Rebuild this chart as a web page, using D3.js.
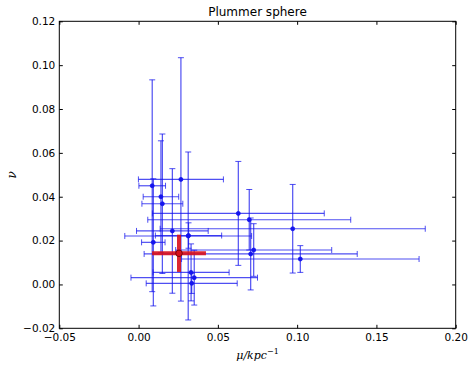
<!DOCTYPE html>
<html><head><meta charset="utf-8">
<script src="https://cdn.jsdelivr.net/npm/d3@7"></script>
<style>html,body{margin:0;padding:0;background:#fff;}svg{display:block;}</style>
</head><body>
<svg id="chart" width="474" height="367"></svg>
<script>
// ---- data ----
const muValues    = [0.0086, 0.0267, 0.0141, 0.0150, 0.0629, 0.0698, 0.0213, 0.0313, 0.0315, 0.0093, 0.0331, 0.0351, 0.0335, 0.0972, 0.1020, 0.0726, 0.0707];
const nuValues    = [0.0450, 0.0479, 0.0400, 0.0368, 0.0324, 0.0295, 0.0244, 0.0221, 0.0223, 0.0192, 0.0055, 0.0031, 0.0005, 0.0254, 0.0116, 0.0157, 0.0139];
const muErrors    = [0.0084, 0.0268, 0.0112, 0.0129, 0.0542, 0.0640, 0.0226, 0.0400, 0.0209, 0.0074, 0.0240, 0.0399, 0.0287, 0.0836, 0.0749, 0.0492, 0.0672];
const nuErrors    = [0.0483, 0.0555, 0.0255, 0.0318, 0.0237, 0.0138, 0.0284, 0.0383, 0.0058, 0.0290, 0.0130, 0.0125, 0.0046, 0.0202, 0.0061, 0.0120, 0.0164];
const meanMu      = [0.0255];
const meanNu      = [0.0142];
const meanMuError = [0.0170];
const meanNuError = [0.0085];
const xTicks = [-0.05, 0.00, 0.05, 0.10, 0.15, 0.20];
const yTicks = [-0.02, 0.00, 0.02, 0.04, 0.06, 0.08, 0.10, 0.12];
const titleText = "Plummer sphere";

(function () {
// ---- layout ----
const svg = d3.select("#chart");
const L = 59.3, T = 21.3, W = 396.4, H = 307;
const x = d3.scaleLinear().domain([-0.05, 0.20]).range([L, L + W]);
const y = d3.scaleLinear().domain([-0.02, 0.12]).range([T + H, T]);
const fmt = d3.format(".2f");
const FONT = "DejaVu Sans, Liberation Sans, sans-serif";

const pts = muValues.map((m, i) => ({ x: m, y: nuValues[i], xe: muErrors[i], ye: nuErrors[i] }));
const mean = meanMu.map((m, i) => ({ x: m, y: meanNu[i], xe: meanMuError[i], ye: meanNuError[i] }));

function drawErrorbars(g, data, color, width, opacity, cap, r, edge) {
  const gg = g.append("g").attr("stroke", color).attr("stroke-width", width).attr("stroke-opacity", opacity).attr("fill", "none");
  data.forEach(d => {
    gg.append("line").attr("x1", x(d.x - d.xe)).attr("x2", x(d.x + d.xe)).attr("y1", y(d.y)).attr("y2", y(d.y));
    gg.append("line").attr("x1", x(d.x)).attr("x2", x(d.x)).attr("y1", y(d.y - d.ye)).attr("y2", y(d.y + d.ye));
    if (cap > 0) {
      [d.x - d.xe, d.x + d.xe].forEach(v => gg.append("line").attr("stroke-width", 1)
        .attr("x1", x(v)).attr("x2", x(v)).attr("y1", y(d.y) - cap).attr("y2", y(d.y) + cap));
      [d.y - d.ye, d.y + d.ye].forEach(v => gg.append("line").attr("stroke-width", 1)
        .attr("x1", x(d.x) - cap).attr("x2", x(d.x) + cap).attr("y1", y(v)).attr("y2", y(v)));
    }
  });
  g.append("g").selectAll("circle").data(data).join("circle")
    .attr("cx", d => x(d.x)).attr("cy", d => y(d.y)).attr("r", r)
    .attr("fill", color).attr("stroke", edge).attr("stroke-width", 0.8);
}

const plot = svg.append("g");
drawErrorbars(plot, pts, "#1414ee", 1.2, 0.75, 3, 2, "#1414ee");
drawErrorbars(plot, mean, "#d8101c", 4, 0.9, 0, 3.3, "#600000");

// ---- axes ----
const ax = svg.append("g").attr("font-family", FONT);
const axB = ax.append("g").attr("transform", `translate(0,${T + H})`)
  .call(d3.axisBottom(x).tickValues(xTicks).tickFormat(fmt).tickSize(-3.5).tickPadding(5.5));
const axT = ax.append("g").attr("transform", `translate(0,${T})`)
  .call(d3.axisTop(x).tickValues(xTicks).tickFormat("").tickSize(-3.5));
const axL = ax.append("g").attr("transform", `translate(${L},0)`)
  .call(d3.axisLeft(y).tickValues(yTicks).tickFormat(fmt).tickSize(-3.5).tickPadding(4));
const axR = ax.append("g").attr("transform", `translate(${L + W},0)`)
  .call(d3.axisRight(y).tickValues(yTicks).tickFormat("").tickSize(-3.5));
[axB, axT, axL, axR].forEach(a => {
  a.select(".domain").remove();
  a.selectAll(".tick line").attr("stroke", "#000").attr("stroke-width", 1);
  a.selectAll(".tick text").attr("fill", "#000").attr("font-size", 10.5).attr("font-family", FONT);
});
svg.append("rect").attr("x", L).attr("y", T).attr("width", W).attr("height", H)
  .attr("fill", "none").attr("stroke", "#000").attr("stroke-width", 1);

// ---- labels ----
svg.append("text").attr("x", L + W / 2).attr("y", 16).attr("text-anchor", "middle")
  .attr("font-family", FONT).attr("font-size", 12).attr("fill", "#000").text(titleText);

const xl = svg.append("text").attr("x", L + W / 2).attr("y", 359).attr("text-anchor", "middle")
  .attr("font-family", "DejaVu Serif, serif").attr("font-style", "italic").attr("font-size", 11).attr("fill", "#000");
xl.append("tspan").text("μ/kpc");
xl.append("tspan").attr("dy", -5).attr("font-size", 8).attr("font-style", "normal").text("−1");

svg.append("text").attr("transform", `translate(16,${T + H / 2}) rotate(-90)`).attr("text-anchor", "middle")
  .attr("font-family", "DejaVu Serif, serif").attr("font-style", "italic").attr("font-size", 12).attr("fill", "#000").text("ν");
})();
</script>
</body></html>
